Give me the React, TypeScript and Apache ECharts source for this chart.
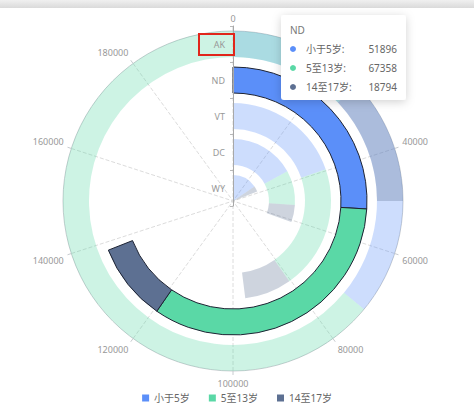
import React, { useEffect, useRef } from "react";
import * as echarts from "echarts";

// radius categories, from the centre outwards
const states = ["WY", "DC", "VT", "ND", "AK"];
const under5 = [31000, 34000, 39500, 51896, 72000];
const age5to13 = [0, 18000, 41000, 67358, 154000];
const age14to17 = [7000, 9000, 15500, 18794, 24000];
const seriesNames = ["小于5岁", "5至13岁", "14至17岁"];
const colors = ["#5B8FF9", "#5AD8A6", "#5D7092"];
const angleMax = 200000;
const angleStep = 20000;
const hiddenTick = 20000; // sits under the tooltip in the reference
const focusState = "ND";

const font = "'Noto Sans', 'Noto Sans CJK SC', sans-serif";

const App: React.FC = () => {
  const chartRef = useRef<HTMLDivElement>(null);

  useEffect(() => {
    if (!chartRef.current) return;
    const chart = echarts.init(chartRef.current, undefined, { renderer: "svg" });

    const seriesValues = [under5, age5to13, age14to17];
    const focusIndex = states.indexOf(focusState);

    // highlighted row keeps full colour and a dark border, the rest is faded
    const makeData = (values: number[]) =>
      values.map((v, i) =>
        i === focusIndex
          ? { value: v, itemStyle: { opacity: 1, borderColor: "#1d2333", borderWidth: 1 } }
          : { value: v, itemStyle: { opacity: 0.3 } }
      );

    // static copy of the axis tooltip shown for ND
    const tipX = 281;
    const tipY = 15;
    const tooltipChildren: any[] = [
      {
        type: "rect",
        z: 200,
        shape: { x: 0, y: 0, width: 125, height: 85, r: 3 },
        style: { fill: "#fff", shadowBlur: 10, shadowColor: "rgba(0,0,0,0.18)", shadowOffsetY: 2 },
      },
      {
        type: "text",
        z: 201,
        x: 9,
        y: 15,
        style: { text: focusState, fill: "#777", fontSize: 10, fontFamily: font, verticalAlign: "middle" },
      },
    ];
    seriesNames.forEach((name, i) => {
      const y = 34 + i * 19;
      tooltipChildren.push(
        { type: "circle", z: 201, shape: { cx: 12, cy: y, r: 3 }, style: { fill: colors[i] } },
        {
          type: "text",
          z: 201,
          x: 25,
          y,
          style: { text: name + ":", fill: "#666", fontSize: 10, fontFamily: font, verticalAlign: "middle" },
        },
        {
          type: "text",
          z: 201,
          x: 116,
          y,
          style: {
            text: String(seriesValues[i][focusIndex]),
            fill: "#666",
            fontSize: 10,
            fontFamily: font,
            align: "right",
            verticalAlign: "middle",
          },
        }
      );
    });

    const options = {
      animation: false,
      textStyle: { fontFamily: font },
      color: colors,
      // polar 0 carries the visible angle axis, polar 1 the bars and category axis
      polar: [
        { center: [233, 201], radius: 170 },
        { center: [233, 201], radius: [-5, 175] },
      ],
      angleAxis: [
        {
          polarIndex: 0,
          type: "value",
          min: 0,
          max: angleMax,
          interval: angleStep,
          startAngle: 90,
          axisLine: { lineStyle: { color: "#c8ccd0" } },
          axisTick: { show: true, length: 4, lineStyle: { color: "#c8ccd0" } },
          axisLabel: {
            color: "#999",
            fontSize: 9,
            margin: 8,
            formatter: (v: number) => (v === hiddenTick ? "" : String(v)),
          },
          splitLine: { lineStyle: { type: "dashed", color: "#dcdcdc" } },
        },
        {
          polarIndex: 1,
          type: "value",
          min: 0,
          max: angleMax,
          startAngle: 90,
          axisLine: { show: false },
          axisTick: { show: false },
          axisLabel: { show: false },
          splitLine: { show: false },
        },
      ],
      radiusAxis: [
        {
          polarIndex: 0,
          type: "category",
          data: states,
          show: false,
        },
        {
          polarIndex: 1,
          type: "category",
          data: states,
          z: 10,
          axisLine: { lineStyle: { color: "#a8a8a8" } },
          axisTick: { length: 3, lineStyle: { color: "#b8b8b8" } },
          axisLabel: { color: "#999", fontSize: 9, margin: 8 },
          splitLine: { show: false },
        },
      ],
      legend: {
        bottom: 9,
        left: "center",
        icon: "rect",
        itemWidth: 7,
        itemHeight: 7,
        itemGap: 19,
        textStyle: { color: "#666", fontSize: 10 },
        data: seriesNames,
      },
      series: seriesNames.map((name, i) => ({
        name,
        type: "bar",
        coordinateSystem: "polar",
        polarIndex: 1,
        stack: "total",
        barWidth: 26,
        data: makeData(seriesValues[i]),
      })),
      graphic: [
        {
          type: "rect",
          z: 200,
          shape: { x: 0, y: 0, width: 474, height: 8 },
          style: {
            fill: new echarts.graphic.LinearGradient(0, 0, 0, 1, [
              { offset: 0, color: "#f0f0f0" },
              { offset: 1, color: "#dadada" },
            ]),
          },
        },
        {
          type: "rect",
          z: 200,
          shape: { x: 199, y: 34, width: 35, height: 21 },
          style: { fill: "none", stroke: "#e1251b", lineWidth: 2 },
        },
        { type: "group", x: tipX, y: tipY, z: 200, children: tooltipChildren },
      ],
    };

    chart.setOption(options);
    return () => {
      chart.dispose();
    };
  }, []);

  return (
    <div
      ref={chartRef}
      style={{ position: "absolute", left: 0, top: 0, width: "474px", height: "417px", background: "#fff" }}
    />
  );
};

export default App;
